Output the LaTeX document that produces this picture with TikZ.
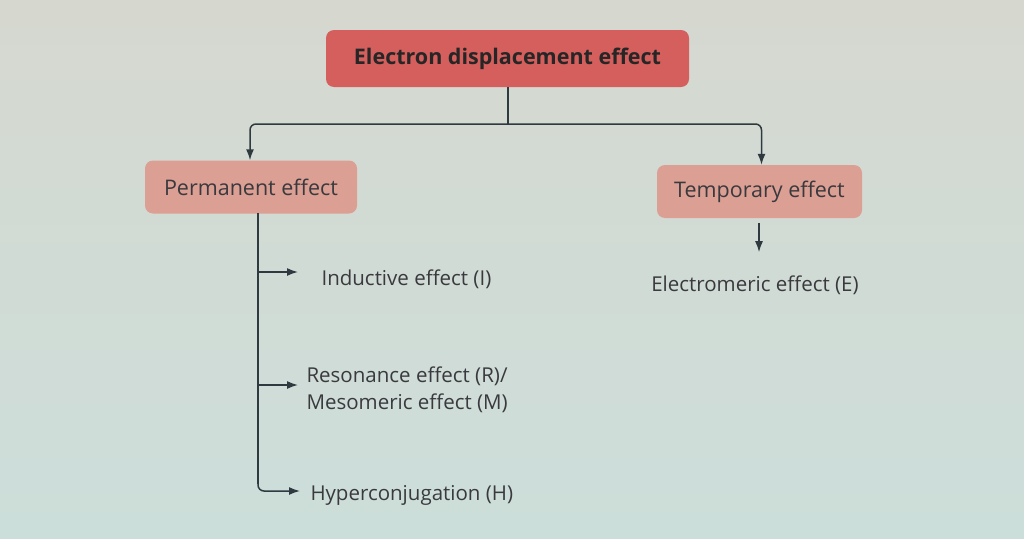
\documentclass[tikz,border=0pt]{standalone}
\usepackage{fontspec}
\setmainfont{Open Sans}
\usetikzlibrary{arrows.meta,positioning}
\definecolor{bgtop}{HTML}{D6D8D0}
\definecolor{bgbot}{HTML}{CCDEDA}
\definecolor{topred}{HTML}{D45F5D}
\definecolor{pinkbox}{HTML}{DB9F94}
\definecolor{txt}{HTML}{3A3A3E}
\definecolor{linec}{HTML}{2E3A40}
\tikzset{
  mainbox/.style={draw=none, fill=topred, rounded corners=8pt, minimum width=363pt, minimum height=57pt, font=\bfseries\fontsize{21.5}{24}\selectfont, text=black!85},
  subbox/.style={draw=none, fill=pinkbox, rounded corners=8pt, minimum height=53pt, font=\fontsize{21.5}{24}\selectfont, text=txt},
  leaf/.style={font=\fontsize{20.5}{26}\selectfont, text=txt, align=left},
  conn/.style={draw=linec, line width=1.5pt},
  arr/.style={conn, -{Latex[length=11pt,width=8pt]}},
}
\begin{document}
\begin{tikzpicture}[x=1pt,y=-1pt]
\useasboundingbox (0,0) rectangle (1024,538);
\shade[top color=bgtop, bottom color=bgbot] (0,0) rectangle (1024,538);
\node[mainbox] (root) at (507.5,58.5) {Electron displacement effect};
\node[subbox, minimum width=212pt] (perm) at (251,187) {Permanent effect};
\node[subbox, minimum width=205pt] (temp) at (759.5,191.5) {Temporary effect};
\node[leaf, anchor=west] (ind) at (318,279) {Inductive effect (I)};
\node[leaf, anchor=west, font=\fontsize{20.5}{27}\selectfont] (res) at (303,390) {Resonance effect (R)/\\Mesomeric effect (M)};
\node[leaf, anchor=west] (hyp) at (307,495) {Hyperconjugation (H)};
\node[leaf, anchor=center] (ele) at (755,285) {Electromeric effect (E)};
\coordinate (split) at (508,124);
\draw[conn] (root.south -| split) -- (split);
\draw[arr, rounded corners=6pt] (split) -| ([xshift=-1pt]perm.north);
\draw[arr, rounded corners=6pt] (split) -| ([xshift=2pt]temp.north);
\draw[arr] ([yshift=-5pt]temp.south -| 759,0) -- ([yshift=-34pt]temp.south -| 759,0);
\coordinate (trunk) at (258,213);
\draw[conn] (trunk) -- (258,484);
\draw[arr] (258,272) -- (298,272);
\draw[arr] (258,385) -- (298,385);
\draw[arr, rounded corners=6pt] (258,470) |- (300,491);
\end{tikzpicture}
\end{document}
